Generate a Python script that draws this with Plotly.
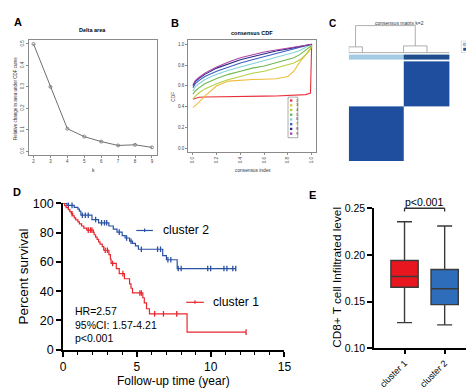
import plotly.graph_objects as go

W, H = 474, 388
FONT = "Liberation Sans"

# ---------------- data ----------------
# A: delta area
k_vals = [2, 3, 4, 5, 6, 7, 8, 9]
delta_area = [0.50, 0.30, 0.105, 0.068, 0.045, 0.027, 0.030, 0.018]

# B: consensus CDF
cdf_index = [0, 0.02, 0.05, 0.1, 0.2, 0.3, 0.4, 0.5, 0.6, 0.7, 0.8, 0.85, 0.9, 0.95, 0.99, 1.0]
cdf_k2 = [0.47, 0.48, 0.49, 0.492, 0.495, 0.497, 0.498, 0.50, 0.50, 0.502, 0.505, 0.508, 0.51, 0.515, 0.53, 1.0]
cdf_k3 = [0.39, 0.41, 0.44, 0.50, 0.60, 0.645, 0.655, 0.66, 0.663, 0.668, 0.69, 0.74, 0.83, 0.90, 0.95, 1.0]
cdf_k4 = [0.47, 0.50, 0.53, 0.57, 0.62, 0.66, 0.69, 0.72, 0.74, 0.77, 0.80, 0.82, 0.85, 0.90, 0.96, 1.0]
cdf_k5 = [0.52, 0.55, 0.58, 0.62, 0.67, 0.71, 0.74, 0.77, 0.79, 0.82, 0.85, 0.87, 0.90, 0.94, 0.98, 1.0]
cdf_k6 = [0.55, 0.59, 0.62, 0.66, 0.71, 0.75, 0.78, 0.81, 0.84, 0.87, 0.90, 0.92, 0.94, 0.97, 0.99, 1.0]
cdf_k7 = [0.58, 0.62, 0.65, 0.69, 0.74, 0.78, 0.82, 0.85, 0.88, 0.91, 0.94, 0.955, 0.97, 0.985, 0.995, 1.0]
cdf_k8 = [0.60, 0.64, 0.67, 0.71, 0.77, 0.81, 0.85, 0.88, 0.91, 0.935, 0.955, 0.965, 0.975, 0.99, 0.997, 1.0]
cdf_k9 = [0.61, 0.65, 0.68, 0.72, 0.78, 0.83, 0.87, 0.90, 0.925, 0.945, 0.96, 0.97, 0.98, 0.99, 0.998, 1.0]
cdf_labels = ["2", "3", "4", "5", "6", "7", "8", "9"]
cdf_colors = ["#e8303a", "#f0bc3c", "#b4d040", "#6cb850", "#84d2d6", "#3a5ec4", "#262a84", "#b044a4"]

# C: consensus matrix (cluster sizes, sample order)
cluster_sizes = [56, 47]
consensus_z = [[1, 0], [0, 1]]
strip_z = [[0, 1]]
# dendrogram segments (x: sample position, y: height), None separates segments
dendro_x = [7, 68, None, 7, 7, None, 68, 68, None, 0, 14, None, 0, 0, None, 14, 14, None,
            56, 80, None, 56, 56, None, 80, 80, None, 0, 103]
dendro_y = [140, 140, None, 140, 118, None, 140, 119, None, 118, 118, None, 118, 112, None, 118, 112, None,
            119, 119, None, 119, 112, None, 119, 112, None, 112, 112]

# D: Kaplan-Meier
c2_times = [0.25, 0.75, 1.0, 1.1, 1.2, 1.95, 2.4, 3.1, 3.4, 3.65, 4.0, 4.2, 4.5, 4.7, 4.9, 5.1, 6.75, 7.0, 7.73]
c2_surv = [98.7, 97.4, 96.1, 94.8, 92.0, 89.0, 86.8, 84.6, 82.4, 80.4, 78.0, 76.4, 74.2, 72.7, 71.0, 68.7, 64.3, 61.5, 55.5]
c2_end = 11.7
c2_censor = [0.35, 0.6, 1.3, 1.5, 1.7, 2.2, 2.6, 2.8, 2.95, 3.8, 4.3, 4.6, 5.3, 6.4, 6.6, 7.1, 7.3,
             7.8, 8.0, 9.8, 10.0, 10.9, 11.1, 11.5, 11.7]
c1_times = [0.1, 0.2, 0.35, 0.45, 0.55, 0.65, 0.75, 0.85, 1.0, 1.1, 1.25, 1.4, 1.6, 2.05, 2.1, 2.2, 2.3, 2.4,
            2.5, 2.65, 2.75, 3.1, 3.2, 3.25, 3.6, 3.8, 4.15, 4.5, 4.6, 4.7, 5.4, 5.5, 5.65, 5.85, 8.4]
c1_surv = [98.6, 97.2, 95.8, 94.4, 93.0, 91.6, 90.2, 88.8, 87.4, 86.0, 84.6, 83.2, 81.8, 80.2, 78.6, 77.0,
           75.4, 73.8, 72.2, 70.5, 68.0, 65.0, 62.0, 59.0, 55.5, 52.0, 48.5, 45.0, 42.0, 38.8, 35.5, 32.0,
           28.0, 24.5, 12.0]
c1_end = 12.4
c1_censor = [0.6, 1.7, 1.85, 1.95, 2.85, 3.0, 3.35, 4.05, 5.2, 5.3, 6.2, 6.8, 7.7, 12.4]
km_stats = ["HR=2.57", "95%CI: 1.57-4.21", "p<0.001"]

# E: boxplot
box_groups = ["cluster 1", "cluster 2"]
box_q1 = [0.1655, 0.1469]
box_median = [0.1769, 0.1638]
box_q3 = [0.1941, 0.1845]
box_low = [0.1276, 0.1252]
box_high = [0.2355, 0.2310]
box_colors = ["#e8171f", "#2e6dba"]
p_text = "p<0.001"


def px(x):
    return x / W


def py(y):
    return 1 - y / H


def step_xy(times, surv, end):
    xs, ys = [0], [100]
    for t, s in zip(times, surv):
        xs.append(t)
        ys.append(s)
    xs.append(end)
    ys.append(surv[-1])
    return xs, ys


def surv_at(times, surv, t):
    s = 100
    for ti, si in zip(times, surv):
        if ti <= t:
            s = si
    return s


fig = go.Figure()

# ---------------- A ----------------
fig.add_trace(go.Scatter(x=k_vals, y=delta_area, mode="lines+markers",
                         line=dict(color="#707070", width=1),
                         marker=dict(symbol="circle-open", size=3, color="#707070", line=dict(width=0.8)),
                         xaxis="x", yaxis="y", showlegend=False))

# ---------------- B ----------------
for lab, col, ys in zip(cdf_labels, cdf_colors,
                        [cdf_k2, cdf_k3, cdf_k4, cdf_k5, cdf_k6, cdf_k7, cdf_k8, cdf_k9]):
    fig.add_trace(go.Scatter(x=cdf_index, y=ys, mode="lines", line=dict(color=col, width=1.1, shape="linear"),
                             xaxis="x2", yaxis="y2", showlegend=False))

# ---------------- C ----------------
edges = [0, cluster_sizes[0], cluster_sizes[0] + cluster_sizes[1]]
fig.add_trace(go.Heatmap(z=consensus_z, x=edges, y=edges, colorscale=[[0, "white"], [1, "#1f4e9e"]],
                         zmin=0, zmax=1, showscale=False, xaxis="x3", yaxis="y3", hoverinfo="skip"))
fig.add_trace(go.Heatmap(z=strip_z, x=edges, y=[105, 110], colorscale=[[0, "#a3cbe4"], [1, "#1f4e8f"]],
                         zmin=0, zmax=1, showscale=False, xaxis="x3", yaxis="y3", hoverinfo="skip"))
fig.add_trace(go.Scatter(x=dendro_x, y=dendro_y, mode="lines", line=dict(color="#9a9a9a", width=0.8),
                         xaxis="x3", yaxis="y3", showlegend=False, connectgaps=False))

# ---------------- D ----------------
for times, surv, end, cens, col in [(c2_times, c2_surv, c2_end, c2_censor, "#2a52a3"),
                                    (c1_times, c1_surv, c1_end, c1_censor, "#e8262e")]:
    xs, ys = step_xy(times, surv, end)
    fig.add_trace(go.Scatter(x=xs, y=ys, mode="lines", line=dict(color=col, width=1.2, shape="hv"),
                             xaxis="x4", yaxis="y4", showlegend=False))
    cy = [surv_at(times, surv, t) for t in cens]
    fig.add_trace(go.Scatter(x=cens, y=cy, mode="markers",
                             marker=dict(symbol="line-ns", size=4, line=dict(color=col, width=1.3)),
                             xaxis="x4", yaxis="y4", showlegend=False, cliponaxis=False))

# ---------------- E ----------------
for i, g in enumerate(box_groups):
    fig.add_trace(go.Box(x=[i], q1=[box_q1[i]], median=[box_median[i]], q3=[box_q3[i]],
                         lowerfence=[box_low[i]], upperfence=[box_high[i]],
                         fillcolor=box_colors[i], line=dict(color="#3a3a3a", width=1.4),
                         width=0.68, whiskerwidth=0.55, boxpoints=False,
                         xaxis="x5", yaxis="y5", showlegend=False, name=g))

# ---------------- axes ----------------
rstyle = dict(showline=True, mirror=True, linecolor="#8a8a8a", linewidth=0.8, ticks="outside",
              ticklen=2, tickwidth=0.6, tickcolor="#8a8a8a", showgrid=False, zeroline=False,
              tickfont=dict(size=4.5, family=FONT, color="#444"))
gstyle = dict(showline=True, linecolor="black", linewidth=2, ticks="outside", tickwidth=1.6,
              tickcolor="black", showgrid=False, zeroline=False)

fig.update_layout(
    width=W, height=H, margin=dict(l=0, r=0, t=0, b=0),
    paper_bgcolor="white", plot_bgcolor="white", showlegend=False,
    font=dict(family=FONT, color="black"),
    xaxis=dict(domain=[px(18), px(149)], range=[1.71, 9.29], tickvals=k_vals, anchor="y", **rstyle),
    yaxis=dict(domain=[py(146), py(27)], range=[-0.018, 0.518], tickvals=[0, 0.1, 0.2, 0.3, 0.4, 0.5],
               ticktext=["0.0", "0.1", "0.2", "0.3", "0.4", "0.5"], tickangle=-90, anchor="x", **rstyle),
    xaxis2=dict(domain=[px(181), px(312)], range=[-0.04, 1.04], tickvals=[0, 0.2, 0.4, 0.6, 0.8, 1.0],
                ticktext=["0.0", "0.2", "0.4", "0.6", "0.8", "1.0"], tickangle=-90, anchor="y2", **rstyle),
    yaxis2=dict(domain=[py(143), py(27)], range=[-0.04, 1.04], tickvals=[0, 0.2, 0.4, 0.6, 0.8, 1.0],
                ticktext=["0.0", "0.2", "0.4", "0.6", "0.8", "1.0"], anchor="x2", **rstyle),
    xaxis3=dict(domain=[px(345), px(448)], range=[0, 103], visible=False, anchor="y3"),
    yaxis3=dict(domain=[py(152), py(10)], range=[0, 142], visible=False, anchor="x3"),
    xaxis4=dict(domain=[px(53.3), px(279.3)], range=[0, 15], tickvals=[0, 5, 10, 15], anchor="y4",
                tickfont=dict(size=12, family=FONT), ticklen=5,
                minor=dict(dtick=1, ticks="outside", ticklen=3, tickwidth=1.2, tickcolor="black"), **gstyle),
    yaxis4=dict(domain=[py(347.3), py(195.3)], range=[0, 100.5], tickvals=[0, 20, 40, 60, 80, 100],
                anchor="x4", tickfont=dict(size=12.5, family=FONT), ticklen=5, **gstyle),
    xaxis5=dict(domain=[px(371), px(467)], range=[-0.756, 1.585], tickvals=[0, 1], ticktext=box_groups,
                tickangle=-45, anchor="y5", tickfont=dict(size=9, family=FONT), ticklen=4, **gstyle),
    yaxis5=dict(domain=[py(346), py(201)], range=[0.10, 0.25], tickvals=[0.10, 0.15, 0.20, 0.25],
                ticktext=["0.10", "0.15", "0.20", "0.25"], anchor="x5", ticklen=5,
                tickfont=dict(size=10.5, family=FONT), **gstyle),
)

ann = []


def text(x, y, s, size, bold=False, angle=0, xanchor="center", yanchor="middle", color="black", align="center"):
    ann.append(dict(x=px(x), y=py(y), xref="paper", yref="paper", text=("<b>%s</b>" % s) if bold else s,
                    showarrow=False, font=dict(size=size, family=FONT, color=color), textangle=angle,
                    xanchor=xanchor, yanchor=yanchor, align=align))


# panel letters
text(1, 8, "A", 11, bold=True, xanchor="left")
text(161, 9, "B", 11, bold=True, xanchor="left")
text(323, 10, "C", 10, bold=True, xanchor="left")
text(0, 184, "D", 11, bold=True, xanchor="left")
text(302, 187, "E", 11, bold=True, xanchor="left")

# A texts
text(83, 17, "Delta area", 5.5, bold=True)
text(84, 161, "k", 5, color="#333")
text(4, 87, "Relative change in area under CDF curve", 4.5, angle=-90, color="#333")

# B texts
text(246, 20, "consensus CDF", 5.5, bold=True)
text(247, 162, "consensus index", 4.8, color="#333")
text(166, 85, "CDF", 4.8, angle=-90, color="#333")

# C texts
text(397, 9, "consensus matrix k=2", 5, color="#333")
text(469, 31.5, "1", 4.5, color="#333", xanchor="left")
text(469, 36.5, "2", 4.5, color="#333", xanchor="left")

# D texts
text(13, 272, "Percent survival", 13.5, angle=-90)
text(166, 380, "Follow-up time (year)", 12)
text(153, 224, "cluster 2", 12.2, xanchor="left")
text(204, 298, "cluster 1", 12.2, xanchor="left")
ann.append(dict(x=px(63), y=py(321.5), xref="paper", yref="paper", text="<br>".join(km_stats),
                showarrow=False, font=dict(size=10.5, family=FONT, color="black"), align="left",
                xanchor="left", yanchor="middle"))

# E texts
text(333, 272, "CD8+ T cell Infiltrated level", 11.8, angle=-90)
text(422, 194, p_text, 10.5)

shapes = []
# B legend box
shapes.append(dict(type="rect", xref="paper", yref="paper", x0=px(283), x1=px(293), y0=py(128), y1=py(86),
                   line=dict(color="#777", width=0.6), fillcolor="white"))
for i, (lab, col) in enumerate(zip(cdf_labels, cdf_colors)):
    yc = 89.5 + i * 4.9
    shapes.append(dict(type="rect", xref="paper", yref="paper", x0=px(285), x1=px(287.4),
                       y0=py(yc + 1.2), y1=py(yc - 1.2), line=dict(width=0), fillcolor=col))
    text(289, yc, lab, 3.8, color="#333", xanchor="left")

# C legend
shapes.append(dict(type="rect", xref="paper", yref="paper", x0=px(460), x1=px(473), y0=py(40), y1=py(28),
                   line=dict(color="#bbb", width=0.5), fillcolor="white"))
shapes.append(dict(type="rect", xref="paper", yref="paper", x0=px(462), x1=px(465.5), y0=py(33), y1=py(30),
                   line=dict(color="#888", width=0.4), fillcolor="#a3cbe4"))
shapes.append(dict(type="rect", xref="paper", yref="paper", x0=px(462), x1=px(465.5), y0=py(38), y1=py(35),
                   line=dict(width=0), fillcolor="#1f4e8f"))

# D legend samples
for (x0, x1, yv, col) in [(128, 145, 224, "#2a52a3"), (179, 197, 298.3, "#e8262e")]:
    shapes.append(dict(type="line", xref="paper", yref="paper", x0=px(x0), x1=px(x1), y0=py(yv), y1=py(yv),
                       line=dict(color=col, width=1.2)))
    xm = (x0 + x1) / 2
    shapes.append(dict(type="line", xref="paper", yref="paper", x0=px(xm), x1=px(xm), y0=py(yv - 2),
                       y1=py(yv + 1.5), line=dict(color=col, width=1.2)))

# E significance bracket (value -> paper via axis domain)
y5_dom = (py(346), py(201))


def e_paper(v):
    return y5_dom[0] + (v - 0.10) / 0.15 * (y5_dom[1] - y5_dom[0])


top = e_paper(0.25)
tick = e_paper(0.2465)
shapes.append(dict(type="line", xref="x5", yref="paper", x0=0, x1=1, y0=top, y1=top,
                   line=dict(color="#333", width=1.3)))
for xv in [0, 1]:
    shapes.append(dict(type="line", xref="x5", yref="paper", x0=xv, x1=xv, y0=top, y1=tick,
                       line=dict(color="#333", width=1.3)))

fig.update_layout(annotations=ann, shapes=shapes)
fig.write_html("out.html")
